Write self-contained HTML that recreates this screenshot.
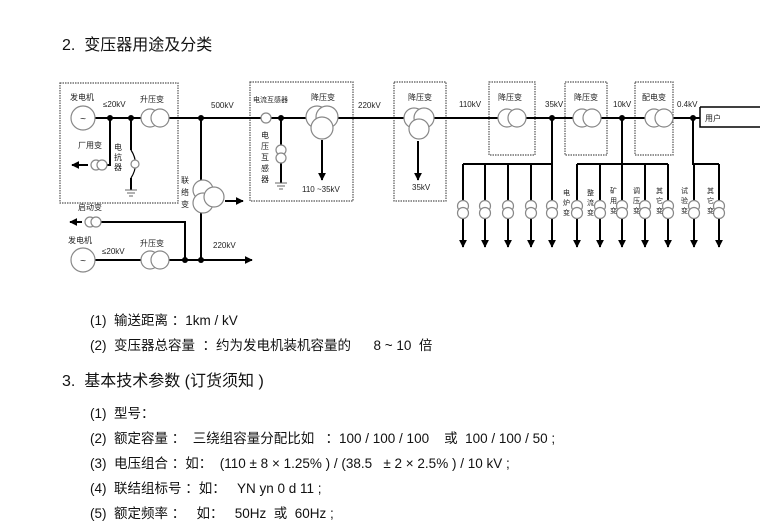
<!DOCTYPE html>
<html><head><meta charset="utf-8"><style>
html,body{margin:0;padding:0;background:#fff;}
body{width:760px;height:527px;position:relative;overflow:hidden;font-family:"Liberation Sans","Noto Sans CJK SC",sans-serif;color:#111;}
.t{position:absolute;white-space:pre;}
.h{font-size:16px;}
.i{font-size:13.5px;}
</style></head><body>
<svg width="760" height="527" style="position:absolute;left:0;top:0" font-family="Liberation Sans, Noto Sans CJK SC, sans-serif">
<defs>
<marker id="a" viewBox="0 0 10 10" refX="9" refY="5" markerWidth="4" markerHeight="4" orient="auto"><path d="M0,0L10,5L0,10z" fill="#000"/></marker>
</defs>
<g fill="none" stroke="#555" stroke-width="1.2" stroke-dasharray="1.5,1">
<rect x="60" y="83" width="118" height="120"/>
<rect x="250" y="82" width="103" height="119"/>
<rect x="394" y="82" width="52" height="119"/>
<rect x="489" y="82" width="46" height="73"/>
<rect x="565" y="82" width="42" height="73"/>
<rect x="635" y="82" width="38" height="73"/>
</g>
<g stroke="#000" stroke-width="2" fill="none">
<line x1="94" y1="118" x2="700" y2="118"/>
<path d="M700,107H760M700,107V127H760" stroke-width="1.5"/>
<path d="M110,118V165H104"/>
<line x1="88" y1="165" x2="72" y2="165" marker-end="url(#a)"/>
<path d="M131,118V150M131,178V190"/>
<path d="M131,150 Q140,164 131,178" stroke-width="1.2"/>
<line x1="201" y1="118" x2="201" y2="260"/>
<line x1="225" y1="201" x2="243" y2="201" marker-end="url(#a)"/>
<path d="M281,118V183"/>
<line x1="322" y1="140" x2="322" y2="180" marker-end="url(#a)"/>
<line x1="418" y1="141" x2="418" y2="180" marker-end="url(#a)"/>
<line x1="94" y1="260" x2="252" y2="260" marker-end="url(#a)"/>
<path d="M185,260V222H100"/>
<line x1="82" y1="222" x2="70" y2="222" marker-end="url(#a)"/>
<path d="M552,118V164H463M622,118V164M577,164H668M693,118V164H719"/>
<g>
<line x1="463" y1="164" x2="463" y2="247" marker-end="url(#a)"/>
<line x1="485" y1="164" x2="485" y2="247" marker-end="url(#a)"/>
<line x1="508" y1="164" x2="508" y2="247" marker-end="url(#a)"/>
<line x1="531" y1="164" x2="531" y2="247" marker-end="url(#a)"/>
<line x1="552" y1="164" x2="552" y2="247" marker-end="url(#a)"/>
<line x1="577" y1="164" x2="577" y2="247" marker-end="url(#a)"/>
<line x1="600" y1="164" x2="600" y2="247" marker-end="url(#a)"/>
<line x1="622" y1="164" x2="622" y2="247" marker-end="url(#a)"/>
<line x1="645" y1="164" x2="645" y2="247" marker-end="url(#a)"/>
<line x1="668" y1="164" x2="668" y2="247" marker-end="url(#a)"/>
<line x1="694" y1="164" x2="694" y2="247" marker-end="url(#a)"/>
<line x1="719" y1="164" x2="719" y2="247" marker-end="url(#a)"/>
</g>
</g>
<g fill="#fff" stroke="#888" stroke-width="1.2">
<circle cx="83" cy="118" r="12"/><circle cx="83" cy="260" r="12"/>
<circle cx="150" cy="118" r="9"/><circle cx="160" cy="118" r="9"/>
<circle cx="150" cy="260" r="9"/><circle cx="160" cy="260" r="9"/>
<circle cx="96" cy="165" r="5"/><circle cx="102" cy="165" r="5"/>
<circle cx="90" cy="222" r="5"/><circle cx="96" cy="222" r="5"/>
<circle cx="135" cy="164" r="4"/>
<circle cx="203" cy="190" r="10"/><circle cx="203" cy="203" r="10"/><circle cx="214" cy="197" r="10"/>
<circle cx="266" cy="118" r="5"/>
<circle cx="281" cy="150" r="5"/><circle cx="281" cy="158" r="5"/>
<circle cx="317" cy="117" r="11"/><circle cx="327" cy="117" r="11"/><circle cx="322" cy="128" r="11"/>
<circle cx="414" cy="118" r="10"/><circle cx="424" cy="118" r="10"/><circle cx="419" cy="129" r="10"/>
<circle cx="507" cy="118" r="9"/><circle cx="517" cy="118" r="9"/>
<circle cx="582" cy="118" r="9"/><circle cx="592" cy="118" r="9"/>
<circle cx="654" cy="118" r="9"/><circle cx="664" cy="118" r="9"/>
<circle cx="463" cy="206" r="5.5"/><circle cx="463" cy="213" r="5.5"/>
<circle cx="485" cy="206" r="5.5"/><circle cx="485" cy="213" r="5.5"/>
<circle cx="508" cy="206" r="5.5"/><circle cx="508" cy="213" r="5.5"/>
<circle cx="531" cy="206" r="5.5"/><circle cx="531" cy="213" r="5.5"/>
<circle cx="552" cy="206" r="5.5"/><circle cx="552" cy="213" r="5.5"/>
<circle cx="577" cy="206" r="5.5"/><circle cx="577" cy="213" r="5.5"/>
<circle cx="600" cy="206" r="5.5"/><circle cx="600" cy="213" r="5.5"/>
<circle cx="622" cy="206" r="5.5"/><circle cx="622" cy="213" r="5.5"/>
<circle cx="645" cy="206" r="5.5"/><circle cx="645" cy="213" r="5.5"/>
<circle cx="668" cy="206" r="5.5"/><circle cx="668" cy="213" r="5.5"/>
<circle cx="694" cy="206" r="5.5"/><circle cx="694" cy="213" r="5.5"/>
<circle cx="719" cy="206" r="5.5"/><circle cx="719" cy="213" r="5.5"/>
</g>
<path d="M125,190H137M127,193H135M129,196H133M275,183H287M277,186H285M279,189H283" stroke="#666" stroke-width="1"/>
<g fill="#000">
<circle cx="110" cy="118" r="3"/><circle cx="131" cy="118" r="3"/><circle cx="201" cy="118" r="3"/>
<circle cx="281" cy="118" r="3"/><circle cx="552" cy="118" r="3"/><circle cx="622" cy="118" r="3"/><circle cx="693" cy="118" r="3"/>
<circle cx="185" cy="260" r="3"/><circle cx="201" cy="260" r="3"/>
</g>
<g font-size="8" fill="#222">
<text x="83" y="122" text-anchor="middle" font-size="10">~</text>
<text x="83" y="264" text-anchor="middle" font-size="10">~</text>
<text x="70" y="100">发电机</text>
<text x="103" y="107">≤20kV</text>
<text x="140" y="102">升压变</text>
<text x="78" y="148">厂用变</text>
<text x="114" y="150">电</text><text x="114" y="160">抗</text><text x="114" y="170">器</text>
<text x="211" y="108">500kV</text>
<text x="181" y="183">联</text><text x="181" y="195">络</text><text x="181" y="207">变</text>
<text x="253" y="102" font-size="7">电流互感器</text>
<text x="311" y="100">降压变</text>
<text x="261" y="138">电</text><text x="261" y="149">压</text><text x="261" y="160">互</text><text x="261" y="171">感</text><text x="261" y="182">器</text>
<text x="302" y="192">110 ~35kV</text>
<text x="358" y="108">220kV</text>
<text x="408" y="100">降压变</text>
<text x="412" y="190">35kV</text>
<text x="459" y="107">110kV</text>
<text x="498" y="100">降压变</text>
<text x="545" y="107">35kV</text>
<text x="574" y="100">降压变</text>
<text x="613" y="107">10kV</text>
<text x="642" y="100">配电变</text>
<text x="677" y="107">0.4kV</text>
<text x="705" y="121">用户</text>
<text x="78" y="210">启动变</text>
<text x="68" y="243">发电机</text>
<text x="102" y="254">≤20kV</text>
<text x="140" y="246">升压变</text>
<text x="213" y="248">220kV</text>
<g font-size="7">
<text x="563" y="195">电</text><text x="563" y="205">炉</text><text x="563" y="215">变</text>
<text x="587" y="195">整</text><text x="587" y="205">流</text><text x="587" y="215">变</text>
<text x="610" y="193">矿</text><text x="610" y="203">用</text><text x="610" y="213">变</text>
<text x="633" y="193">调</text><text x="633" y="203">压</text><text x="633" y="213">变</text>
<text x="656" y="193">其</text><text x="656" y="203">它</text><text x="656" y="213">变</text>
<text x="681" y="193">试</text><text x="681" y="203">验</text><text x="681" y="213">变</text>
<text x="707" y="193">其</text><text x="707" y="203">它</text><text x="707" y="213">变</text>
</g>
</g>
</svg>
<div class="t h" style="left:62px;top:31px">2.  变压器用途及分类</div>
<div class="t i" style="left:90px;top:309px">(1)  输送距离 ：1km / kV</div>
<div class="t i" style="left:90px;top:334px">(2)  变压器总容量  ：约为发电机装机容量的      8 ~ 10  倍</div>
<div class="t h" style="left:62px;top:367px">3.  基本技术参数 (订货须知 )</div>
<div class="t i" style="left:90px;top:402px">(1)  型号：</div>
<div class="t i" style="left:90px;top:427px">(2)  额定容量 ：  三绕组容量分配比如   ：100 / 100 / 100    或  100 / 100 / 50 ;</div>
<div class="t i" style="left:90px;top:452px">(3)  电压组合 ：如：  (110 ± 8 × 1.25% ) / (38.5   ± 2 × 2.5% ) / 10 kV ;</div>
<div class="t i" style="left:90px;top:477px">(4)  联结组标号 ：如：   YN yn 0 d 11 ;</div>
<div class="t i" style="left:90px;top:502px">(5)  额定频率 ：   如：   50Hz  或  60Hz ;</div>
</body></html>
